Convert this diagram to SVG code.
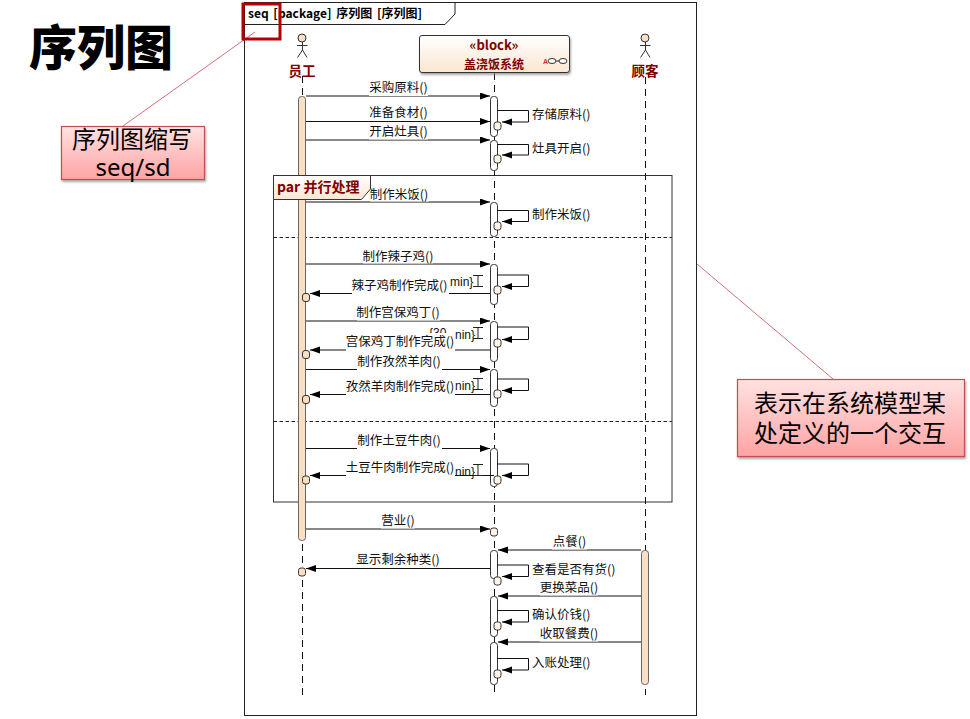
<svg xmlns="http://www.w3.org/2000/svg" width="970" height="719" viewBox="0 0 970 719">
<style>
text{font-family:"Noto Sans CJK SC","Liberation Sans",sans-serif;fill:#111}
.m{font-size:12.5px;text-anchor:middle}
.s{font-size:12.5px}
.n{font-size:12px;font-family:"Liberation Sans","Noto Sans CJK SC",sans-serif}
.r{fill:#800000;font-weight:700;text-anchor:middle}
.call{font-size:24px;text-anchor:middle;fill:#000}
.life{stroke:#111;stroke-width:1;stroke-dasharray:7 5;fill:none}
.act{fill:#fff;stroke:#333;stroke-width:1}
.actb{fill:#f9e0c2;stroke:#666;stroke-width:1}
.dot{fill:#fdf3e6;stroke:#333;stroke-width:1}
.dotb{fill:#f9e0c2;stroke:#333;stroke-width:1}
.msg{stroke:#111;stroke-width:1;fill:none;marker-end:url(#arrow)}
.mbg{fill:#fff}
.actor{stroke:#333;stroke-width:1;fill:none}
.lead{stroke:#d07070;stroke-width:1;fill:none}
.cbox{fill:url(#red);stroke:#c0504d;stroke-width:1.2;filter:url(#sh)}
.dur{stroke:#222;stroke-width:1;fill:none}
</style>
<defs>
<marker id="arrow" markerUnits="userSpaceOnUse" markerWidth="11" markerHeight="8" refX="10" refY="3.5" orient="auto"><path d="M0 0 L10 3.5 L0 7 Z" fill="#000"/></marker>
<linearGradient id="red" x1="0" y1="0" x2="0" y2="1"><stop offset="0" stop-color="#ffe2e2"/><stop offset="1" stop-color="#ffa3a3"/></linearGradient>
<linearGradient id="cream" x1="0" y1="0" x2="0" y2="1"><stop offset="0" stop-color="#ffffff"/><stop offset="1" stop-color="#fbe6d0"/></linearGradient>
<filter id="sh" x="-5%" y="-10%" width="112%" height="125%"><feDropShadow dx="1" dy="2" stdDeviation="1.2" flood-color="#888" flood-opacity=".7"/></filter>
</defs>
<rect width="970" height="719" fill="#fff"/>

<g id="title"><text x="29" y="65" style="font-size:48px;font-weight:900;fill:#000">序列图</text></g>

<g id="frame">
<rect x="244.5" y="2.5" width="452" height="713" fill="#fff" stroke="#222"/>
<path d="M244.5 24.5H445L455 14V2.5" fill="none" stroke="#222"/>
<text x="248" y="18" style="font-size:12px;font-weight:700;fill:#000;word-spacing:2px">seq [package] 序列图 [序列图]</text>
</g>

<g id="par-frame">
<rect x="273.5" y="175.5" width="398.5" height="326.5" fill="none" stroke="#333"/>
<path d="M273.5 237.5H672M273.5 421.5H672" stroke="#222" stroke-dasharray="3.5 2.5" fill="none"/>
</g>

<g id="staff">
<path class="life" d="M302.5 76V695"/>
<circle cx="302" cy="38" r="4" fill="#f9e0c2" stroke="#333"/>
<path class="actor" d="M302.500 42V50M297 45.500H307.500M297.500 57.500L302.500 50L307 57.500"/>
<text class="r" x="302" y="76" style="font-size:13.5px">员工</text>
<rect class="actb" x="298.5" y="96.5" width="7" height="444" rx="3"/>
<rect class="dotb" x="302.5" y="293.5" width="7" height="8" rx="2.5"/>
<rect class="dotb" x="302.5" y="350.5" width="7" height="8" rx="2.5"/>
<rect class="dotb" x="302.5" y="395.5" width="7" height="8" rx="2.5"/>
<rect class="dotb" x="302.5" y="476" width="7" height="8" rx="2.5"/>
<rect class="dotb" x="298.5" y="568" width="7" height="8" rx="2.5"/>
</g>

<g id="system">
<path class="life" d="M494.5 73V695"/>
<rect x="419.5" y="35.5" width="150" height="37" rx="2.5" fill="url(#cream)" stroke="#333" filter="url(#sh)"/>
<text class="r" x="494" y="50" style="font-size:13px">«block»</text>
<text class="r" x="494" y="69" style="font-size:12px">盖浇饭系统</text>
<text x="543" y="64" style="font-size:7px;fill:#d03030;font-family:'Liberation Sans',sans-serif;font-weight:700">A</text>
<ellipse cx="552" cy="61" rx="4" ry="2.500" fill="#fff" stroke="#333"/>
<ellipse cx="563" cy="61" rx="4" ry="2.500" fill="#fff" stroke="#333"/>
<path d="M556 61H559" stroke="#333"/>
<g>
<rect class="act" x="490.5" y="96.5" width="7" height="40" rx="3"/>
<rect class="act" x="490.5" y="140.5" width="7" height="30" rx="3"/>
<rect class="act" x="490.5" y="202.5" width="7" height="34" rx="3"/>
<rect class="act" x="490.5" y="264.5" width="7" height="40" rx="3"/>
<rect class="act" x="490.5" y="321.5" width="7" height="40" rx="3"/>
<rect class="act" x="490.5" y="369.5" width="7" height="37" rx="3"/>
<rect class="act" x="490.5" y="448.5" width="7" height="38" rx="3"/>
<rect class="act" x="490.5" y="550.5" width="7" height="28" rx="3"/>
<rect class="act" x="490.5" y="596.5" width="7" height="40" rx="3"/>
<rect class="act" x="490.5" y="642.5" width="7" height="42" rx="3"/>
</g>
</g>

<g id="customer">
<path class="life" d="M645.5 77V695"/>
<circle cx="645" cy="38" r="4" fill="#f9e0c2" stroke="#333"/>
<path class="actor" d="M645.500 42V50M640 45.500H650.500M640.500 57.500L645.500 50L650 57.500"/>
<text class="r" x="645" y="76" style="font-size:13.5px">顾客</text>
<rect class="actb" x="641.5" y="550.5" width="7" height="134" rx="3"/>
</g>

<g id="connectors">
<path class="msg" d="M306 96H490"/><path class="msg" d="M306 121.5H490"/><path class="msg" d="M306 140H490"/>
<path class="msg" d="M497 110.5H528.5V122H502"/><path class="msg" d="M497 144.500H528.5V155H502"/>
<path class="msg" d="M306 202H490"/><path class="msg" d="M497 210.500H528.500V221.500H502"/>
<path class="msg" d="M306 264H490"/><path class="msg" d="M490 293.500H310"/><path class="msg" d="M497 275H528.500V286.500H502"/>
<path class="msg" d="M306 321H490"/><path class="msg" d="M490 350H310"/><path class="msg" d="M497 327H528.500V339.500H502"/>
<path class="msg" d="M306 369.500H490"/><path class="msg" d="M490 394.500H310"/><path class="msg" d="M497 379H528.500V390.500H502"/>
<path class="msg" d="M306 448.500H490"/><path class="msg" d="M494 475.500H310"/><path class="msg" d="M497 464H528.500V475.500H502"/>
<path class="msg" d="M306 529H490"/>
<path class="msg" d="M641 550H498"/><path class="msg" d="M490 568.500H306"/><path class="msg" d="M497 565H528.500V576.500H502"/>
<path class="msg" d="M641 596H498"/><path class="msg" d="M497 610.500H528.500V622H502"/>
<path class="msg" d="M641 642H498"/><path class="msg" d="M497 658.500H528.500V670H502"/>

<g id="durations">
<path class="dur" d="M473 275.500H483M478 276V286M473 286.500H483"/>
<path class="dur" d="M473 327.500H483M478 328V338M473 338.500H483"/>
<path class="dur" d="M473 378.500H483M478 379V389M473 389.500H483"/>
<path class="dur" d="M473 464.500H483M478 465V475M473 475.500H483"/>
</g>

<g id="labels">
<rect class="mbg" x="369" y="82" width="59" height="14"/><text class="m" x="398.500" y="92">采购原料()</text>
<rect class="mbg" x="369" y="108" width="59" height="13"/><text class="m" x="398.500" y="117">准备食材()</text>
<rect class="mbg" x="369" y="126" width="59" height="13.500"/><text class="m" x="398.500" y="136">开启灶具()</text>
<rect class="mbg" x="370" y="188" width="59" height="13.500"/><text class="m" x="399" y="199">制作米饭()</text>
<rect class="mbg" x="363" y="250" width="70" height="13.500"/><text class="m" x="398" y="261">制作辣子鸡()</text>
<text class="n" x="450" y="286">min}</text>
<rect class="mbg" x="352" y="279" width="97" height="16"/><text class="m" x="399.500" y="290">辣子鸡制作完成()</text>
<rect class="mbg" x="357" y="307" width="83" height="13.500"/><text class="m" x="398" y="317">制作宫保鸡丁()</text>
<text class="n" x="429" y="337">{30</text>
<text class="n" x="455" y="339">nin}</text>
<rect class="mbg" x="346" y="333" width="109" height="19"/><text class="m" x="400" y="346">宫保鸡丁制作完成()</text>
<rect class="mbg" x="357" y="355" width="85" height="16"/><text class="m" x="399" y="366">制作孜然羊肉()</text>
<text class="n" x="455" y="390">nin}</text>
<rect class="mbg" x="346" y="380" width="109" height="16"/><text class="m" x="400" y="391">孜然羊肉制作完成()</text>
<rect class="mbg" x="357" y="434" width="85" height="16"/><text class="m" x="399" y="445">制作土豆牛肉()</text>
<text class="n" x="455" y="476">nin}</text>
<rect class="mbg" x="346" y="460" width="109" height="17"/><text class="m" x="400" y="472">土豆牛肉制作完成()</text>
<rect class="mbg" x="381" y="515" width="34" height="13.500"/><text class="m" x="398" y="525">营业()</text>
<rect class="mbg" x="552" y="536" width="35" height="13.500"/><text class="m" x="569.500" y="546">点餐()</text>
<rect class="mbg" x="358" y="553" width="81" height="15"/><text class="m" x="398" y="564">显示剩余种类()</text>
<rect class="mbg" x="540" y="582" width="58" height="13.500"/><text class="m" x="569" y="592">更换菜品()</text>
<rect class="mbg" x="540" y="628" width="58" height="13.500"/><text class="m" x="569" y="638">收取餐费()</text>
<text class="s" x="532" y="119">存储原料()</text>
<text class="s" x="532" y="153">灶具开启()</text>
<text class="s" x="532" y="219">制作米饭()</text>
<text class="s" x="532" y="574">查看是否有货()</text>
<text class="s" x="532" y="619">确认价钱()</text>
<text class="s" x="532" y="667">入账处理()</text>
</g>
</g>

<g id="par-tab">
<path d="M273.500 175.500H370.500V189L361.500 199.500H273.500Z" fill="url(#cream)" stroke="#333"/>
<text x="277" y="192" style="font-size:14px;font-weight:700;fill:#800000">par 并行处理</text>
</g>

<g id="found-dots">
<rect class="dot" x="494" y="122" width="7" height="8" rx="2.500"/>
<rect class="dot" x="494" y="155" width="7" height="8" rx="2.500"/>
<rect class="dot" x="494" y="222" width="7" height="8" rx="2.500"/>
<rect class="dot" x="494" y="286" width="7" height="8" rx="2.500"/>
<rect class="dot" x="494" y="339" width="7" height="8" rx="2.500"/>
<rect class="dot" x="494" y="390" width="7" height="8" rx="2.500"/>
<rect class="dot" x="494" y="476" width="7" height="8" rx="2.500"/>
<rect class="dot" x="490.500" y="528" width="7" height="8" rx="2.500"/>
<rect class="dot" x="494" y="577" width="7" height="8" rx="2.500"/>
<rect class="dot" x="494" y="622" width="7" height="8" rx="2.500"/>
<rect class="dot" x="494" y="670" width="7" height="8" rx="2.500"/>
</g>

<g id="callout-seq">
<path class="lead" d="M123 126L255 32"/>
<rect class="cbox" x="61.500" y="126.500" width="143" height="53"/>
<text class="call" x="132" y="148">序列图缩写</text>
<text class="call" x="133" y="176" style="font-family:'Noto Sans',sans-serif">seq/sd</text>
</g>
<g id="callout-interaction">
<path class="lead" d="M697 264L833 379"/>
<rect class="cbox" x="737.500" y="379.500" width="227" height="77"/>
<text class="call" x="850" y="412">表示在系统模型某</text>
<text class="call" x="850" y="442">处定义的一个交互</text>
</g>
<g id="highlight"><rect x="243" y="4" width="37" height="35" fill="none" stroke="#b50000" stroke-width="3"/></g>
</svg>
